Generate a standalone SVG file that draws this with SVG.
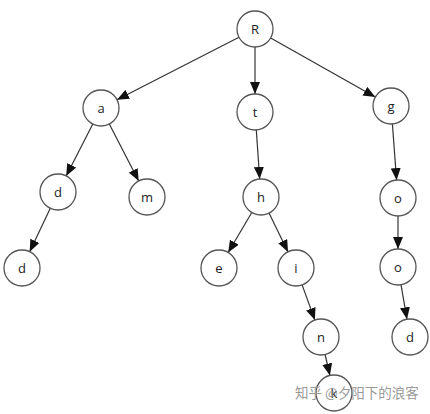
<svg xmlns="http://www.w3.org/2000/svg" width="430" height="414" viewBox="0 0 430 414">
<style>
.node circle{fill:#fff;stroke:#555;stroke-width:1.3}
.node text{font-family:"Open Sans","Liberation Sans",sans-serif;font-size:13px;fill:#222;text-anchor:middle;dominant-baseline:central}
#edges line{stroke:#333;stroke-width:1.2;marker-end:url(#arr)}
.wm{font-family:"Noto Sans CJK SC",sans-serif;font-size:13.5px;fill:#9a9a9a}
</style>
<defs>
<marker id="arr" markerUnits="userSpaceOnUse" markerWidth="12" markerHeight="10" viewBox="0 0 12 10" refX="12" refY="5" orient="auto">
<path d="M0,0 L12,5 L0,10 Z" fill="#111"/>
</marker>
</defs>
<rect width="430" height="414" fill="#fff"/>
<g id="edges">
<line x1="239.0" y1="37.2" x2="117.0" y2="99.8"/>
<line x1="255" y1="47" x2="255" y2="94"/>
<line x1="270.7" y1="37.9" x2="375.3" y2="97.1"/>
<line x1="92.8" y1="124.0" x2="66.2" y2="176.0"/>
<line x1="109.3" y1="124.0" x2="138.7" y2="181.0"/>
<line x1="50.3" y1="208.3" x2="29.7" y2="251.7"/>
<line x1="256.3" y1="130.0" x2="259.7" y2="179.0"/>
<line x1="251.8" y1="212.5" x2="228.2" y2="252.5"/>
<line x1="269.0" y1="213.1" x2="288.0" y2="251.9"/>
<line x1="302.1" y1="284.9" x2="314.9" y2="320.1"/>
<line x1="325.1" y1="354.5" x2="329.9" y2="375.5"/>
<line x1="392.4" y1="124.0" x2="396.6" y2="180.1"/>
<line x1="398" y1="216" x2="398" y2="249"/>
<line x1="401.0" y1="284.7" x2="407.0" y2="319.3"/>
</g>
<g id="node-R" class="node"><circle cx="255" cy="29" r="18"/><text x="255" y="29">R</text></g>
<g id="node-a" class="node"><circle cx="101" cy="108" r="18"/><text x="101" y="108">a</text></g>
<g id="node-t" class="node"><circle cx="255" cy="112" r="18"/><text x="255" y="112">t</text></g>
<g id="node-g" class="node"><circle cx="391" cy="106" r="18"/><text x="391" y="106">g</text></g>
<g id="node-d1" class="node"><circle cx="58" cy="192" r="18"/><text x="58" y="192">d</text></g>
<g id="node-m" class="node"><circle cx="147" cy="197" r="18"/><text x="147" y="197">m</text></g>
<g id="node-h" class="node"><circle cx="261" cy="197" r="18"/><text x="261" y="197">h</text></g>
<g id="node-o1" class="node"><circle cx="398" cy="198" r="18"/><text x="398" y="198">o</text></g>
<g id="node-d2" class="node"><circle cx="22" cy="268" r="18"/><text x="22" y="268">d</text></g>
<g id="node-e" class="node"><circle cx="219" cy="268" r="18"/><text x="219" y="268">e</text></g>
<g id="node-i" class="node"><circle cx="296" cy="268" r="18"/><text x="296" y="268">i</text></g>
<g id="node-o2" class="node"><circle cx="398" cy="267" r="18"/><text x="398" y="267">o</text></g>
<g id="node-n" class="node"><circle cx="321" cy="337" r="18"/><text x="321" y="337">n</text></g>
<g id="node-d3" class="node"><circle cx="410" cy="337" r="18"/><text x="410" y="337">d</text></g>
<g id="node-k" class="node"><circle cx="334" cy="393" r="18"/><text x="334" y="393">k</text></g>
<text class="wm" x="295" y="398">知乎 @夕阳下的浪客</text>
</svg>
